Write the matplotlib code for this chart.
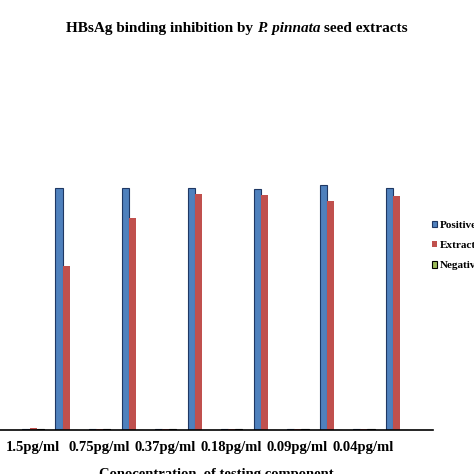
import matplotlib
matplotlib.use("Agg")
import matplotlib.pyplot as plt
import numpy as np

labels = ["1.5pg/ml", "0.75pg/ml", "0.37pg/ml", "0.18pg/ml", "0.09pg/ml", "0.04pg/ml"]
# 12 slots: small groups at even slots, tall groups at odd slots
positive = [0.5, 100, 0.5, 100, 0.5, 100, 0.5, 99.6, 0.5, 101, 0.5, 100]
extract = [0.9, 67.6, 0.3, 87.7, 0.3, 97.5, 0.3, 97.1, 0.3, 94.7, 0.3, 96.7]
negative = [0.5, 0, 0.5, 0, 0.5, 0, 0.5, 0, 0.5, 0, 0.5, 0]

plt.rcParams['font.family'] = ['Liberation Serif', 'DejaVu Serif']
fig = plt.figure(figsize=(4.74, 4.74), dpi=100)
ax = fig.add_axes([0, 0.093, 0.913, 0.70])
x = np.arange(12)
w = 0.22
ax.bar(x - w/2, positive, w, color='#4F81BD', edgecolor='#1F3864', linewidth=0.8, label='Positive')
ax.bar(x + w/2, extract, w, color='#C0504D', label='Extract')
ax.bar(x + 1.5*w, negative, w, color='#9BBB59', edgecolor='black', linewidth=0.8, label='Negative')
ax.set_xlim(-0.9, 12.2)
ax.set_ylim(0, 137)
ax.set_xticks(np.arange(0, 12, 2) + 0.1)
ax.set_xticklabels(labels, fontsize=10.5, fontweight='bold')
ax.tick_params(axis='x', length=0, pad=8)
ax.set_yticks([])
for s in ['top', 'right', 'left']:
    ax.spines[s].set_visible(False)
ax.spines['bottom'].set_linewidth(1.2)
ax.set_xlabel("Conocentration  of testing component", fontsize=10.5, fontweight='bold', labelpad=10)

# title in three parts, laid out with measured widths
parts = [("HBsAg binding inhibition by ", 'normal'), ("P. pinnata", 'italic'), (" seed extracts", 'normal')]
texts = [fig.text(0, 0.94, s, ha='left', va='center', fontsize=11, fontweight='bold', style=st) for s, st in parts]
r = fig.canvas.get_renderer()
widths = [t.get_window_extent(r).width for t in texts]
xpix = 474 * 0.5 - sum(widths) / 2
for t, wd in zip(texts, widths):
    t.set_x(xpix / 474)
    xpix += wd

ax.legend(loc='upper left', bbox_to_anchor=(0.975, 0.66), frameon=False,
          handlelength=0.5, handleheight=0.5, handletextpad=0.2, labelspacing=1.0,
          prop={'weight': 'bold', 'size': 8})
fig.savefig("out.png", dpi=100)
